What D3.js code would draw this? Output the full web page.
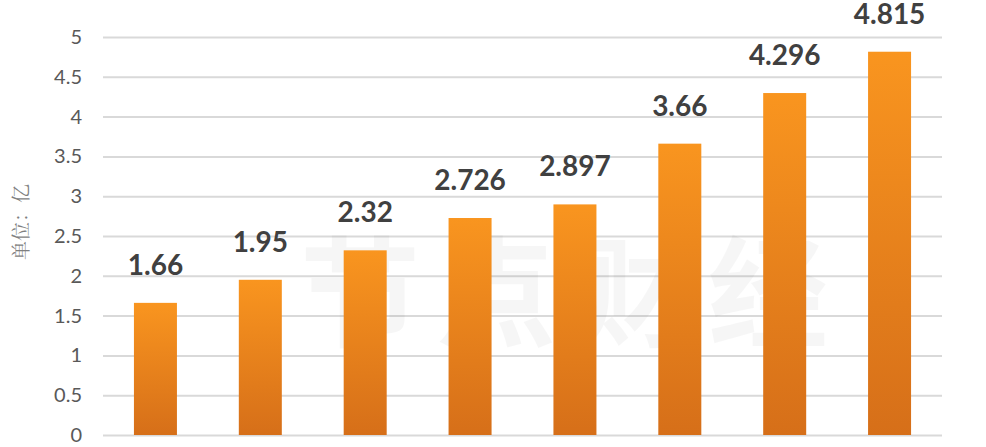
<!DOCTYPE html>
<html>
<head>
<meta charset="utf-8">
<script src="https://cdn.jsdelivr.net/npm/d3@7/dist/d3.min.js"></script>
<style>
html,body{margin:0;padding:0;background:#fff;}
svg{display:block;}
</style>
</head>
<body>
<svg id="chart" width="986" height="447"></svg>
<script>
const categories = ["1","2","3","4","5","6","7","8"];
const values = [1.66, 1.95, 2.32, 2.726, 2.897, 3.66, 4.296, 4.815];
const valueLabels = ["1.66","1.95","2.32","2.726","2.897","3.66","4.296","4.815"];
const yTicks = [0, 0.5, 1, 1.5, 2, 2.5, 3, 3.5, 4, 4.5, 5];
const yTickLabels = ["0","0.5","1","1.5","2","2.5","3","3.5","4","4.5","5"];
const yTitle = "单位：亿";
const watermark = "节点财经";

(function(){
const svg = d3.select("#chart");
const mLeft = 103, mRight = 942, mTop = 37, mBottom = 435;

const x = d3.scaleBand().domain(categories).range([mLeft, mRight]).paddingInner(0.59).paddingOuter(0.295);
const y = d3.scaleLinear().domain([0, 5]).range([mBottom, mTop]);

const defs = svg.append("defs");
const grad = defs.append("linearGradient").attr("id","barGrad").attr("x1",0).attr("y1",0).attr("x2",0).attr("y2",1);
grad.append("stop").attr("offset","0%").attr("stop-color","#F9951F");
grad.append("stop").attr("offset","100%").attr("stop-color","#D66F19");

const yAxis = d3.axisLeft(y).tickValues(yTicks).tickSize(-(mRight-mLeft)).tickFormat((d,i)=>yTickLabels[i]);
const gAxis = svg.append("g").attr("transform",`translate(${mLeft},0)`).call(yAxis);
gAxis.select(".domain").remove();
gAxis.selectAll(".tick line").attr("stroke","#D9D9D9").attr("stroke-width",2);
gAxis.selectAll(".tick text").attr("x",-21).attr("fill","#595959")
  .style("font-family","Lato, 'Open Sans', sans-serif").style("font-size","20px");

svg.append("text").attr("x", 572).attr("y", 338).attr("text-anchor","middle")
  .attr("fill","#000").attr("fill-opacity",0.035)
  .style("font-family","'Noto Sans CJK SC', sans-serif").style("font-weight","bold").style("font-size","120px")
  .style("letter-spacing","16px")
  .text(watermark);

svg.append("g").selectAll("rect").data(values).join("rect")
  .attr("x",(d,i)=>x(categories[i]))
  .attr("width",x.bandwidth())
  .attr("y",d=>y(d))
  .attr("height",d=>y(0)-y(d))
  .attr("fill","url(#barGrad)");

svg.append("g").selectAll("text").data(values).join("text")
  .attr("x",(d,i)=>x(categories[i])+x.bandwidth()/2)
  .attr("y",d=>y(d)-28)
  .attr("text-anchor","middle")
  .attr("fill","#404040")
  .style("font-family","Lato, 'Open Sans', sans-serif").style("font-weight","bold").style("font-size","28px")
  .text((d,i)=>valueLabels[i]);

svg.append("text").attr("transform","translate(28,222) rotate(-90)")
  .attr("text-anchor","middle").attr("fill","#7F7F7F")
  .style("font-family","'Noto Serif CJK SC','Noto Sans CJK SC', serif").style("font-size","19px")
  .text(yTitle);
})();
</script>
</body>
</html>
